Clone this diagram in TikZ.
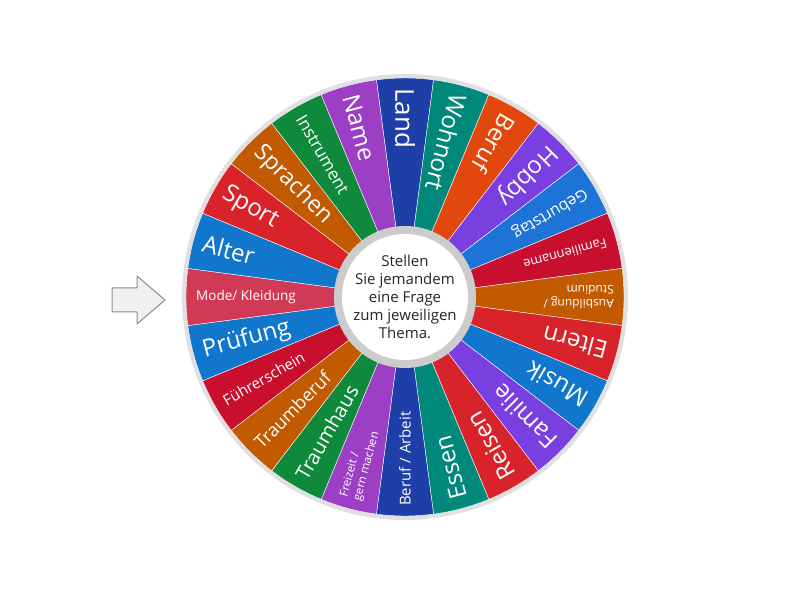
\documentclass[tikz,border=0pt]{standalone}
\usepackage{fontspec}
\setmainfont{Open Sans}
\usetikzlibrary{calc}
\begin{document}
\begin{tikzpicture}[x=1pt,y=1pt,
  lbl/.style={text=white,anchor=west,inner sep=0pt,align=left}]
\useasboundingbox (0,0) rectangle (800,600);
\fill[white] (0,0) rectangle (800,600);
\coordinate (c) at (405,303);
\fill[black!12] (c) circle (223);
\def\R{219}
\foreach \ang/\col/\txt/\fs in {
 90/1E3EA8/Land/26,
 75/00897B/Wohnort/24,
 60/E2480E/Beruf/24,
 45/7A3FE0/Hobby/24,
 30/1E73D6/Geburtstag/16,
 15/C8102E/Familienname/13,
 0/C15A00/{Ausbildung /\\Studium}/12,
 -15/D8232A/Eltern/24,
 -30/1177CC/Musik/24,
 -45/7A3FE0/Familie/24,
 -60/D8232A/Reisen/24,
 -75/00897B/Essen/24,
 -90/1E3EA8/{Beruf / Arbeit}/15,
 -105/9C3FC4/{Freizeit /\\gern machen}/11.5,
 -120/0F8A3C/Traumhaus/20,
 -135/C15A00/Traumberuf/18,
 -150/C8102E/Führerschein/15,
 -165/1177CC/Prüfung/24,
 180/D13A55/{Mode/ Kleidung}/13.5,
 165/1177CC/Alter/24,
 150/D8232A/Sport/24,
 135/C15A00/Sprachen/23,
 120/0F8A3C/Instrument/17,
 105/9C3FC4/Name/24}{
  \definecolor{segc}{HTML}{\col}
  \pgfmathsetmacro\bs{\fs*1.2}
  \fill[segc,draw=white,line width=0.4pt] (c) -- ++(\ang-7.5:\R) arc[start angle=\ang-7.5,end angle=\ang+7.5,radius=\R] -- cycle;
  \node[lbl,font=\fontsize{\fs}{\bs}\selectfont,rotate=\ang+180] at ($(c)+(\ang:\R-10)$) {\txt};
}
\fill[black!20] (c) circle (71);
\fill[white] (c) circle (63);
\node[align=center,font=\fontsize{15}{18}\selectfont,text=black!85] (ctr) at (c) {Stellen\\Sie jemandem\\eine Frage\\zum jeweiligen\\Thema.};
\draw[black!45,fill=black!6,line width=1pt,line join=round] (112,312) -- (137,312) -- (137,324) -- (165,300) -- (137,276) -- (137,288) -- (112,288) -- cycle;
\end{tikzpicture}
\end{document}
